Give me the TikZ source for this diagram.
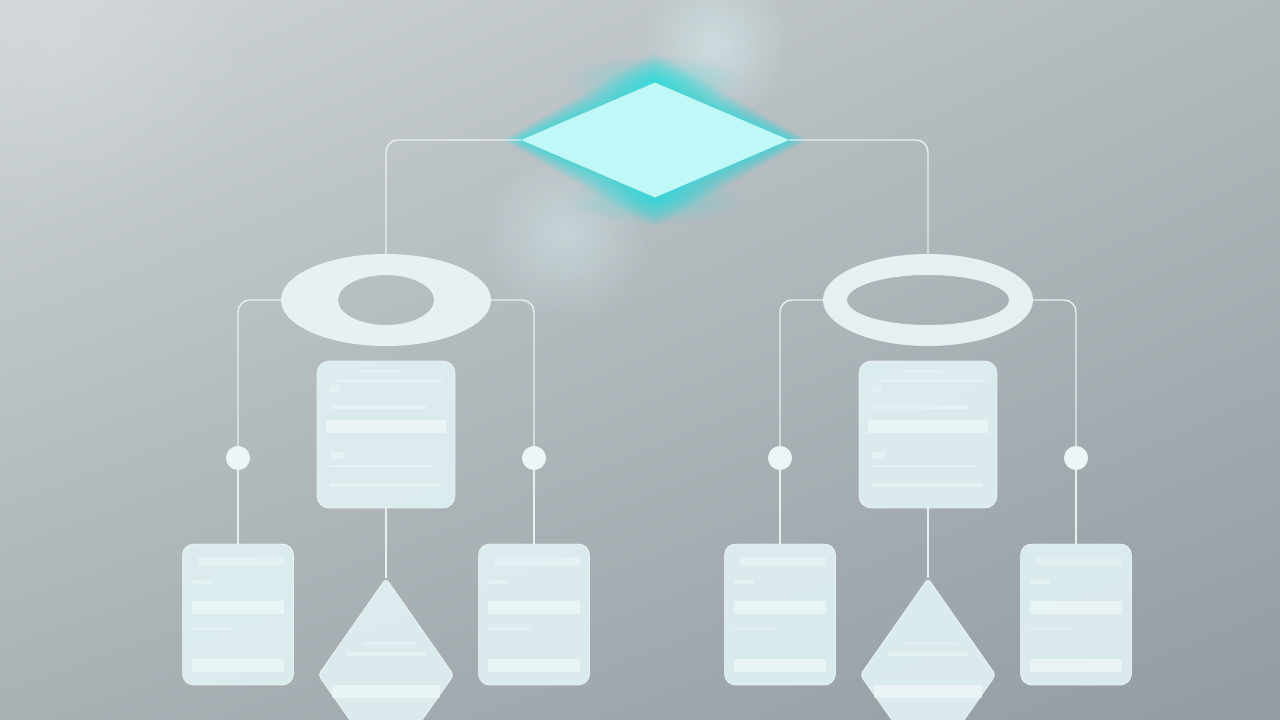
\documentclass[tikz,border=0pt]{standalone}
\usetikzlibrary{shapes.geometric,fadings,shadings}
\definecolor{bgA}{HTML}{CED4D8}
\definecolor{bgB}{HTML}{B2B9BD}
\definecolor{bgC}{HTML}{A9B1B5}
\definecolor{bgD}{HTML}{929CA1}
\definecolor{panel}{HTML}{E0F1F3}
\definecolor{bar}{HTML}{F6FCFD}
\definecolor{wire}{HTML}{E9EFF1}
\definecolor{glow}{HTML}{00E8E8}
\definecolor{gem}{HTML}{BFF8F6}
\definecolor{ring}{HTML}{EEF5F7}
\definecolor{haze}{HTML}{DDF6F6}
\tikzfading[name=softglow, inner color=transparent!0, outer color=transparent!100]
\tikzset{
  wireline/.style={draw=wire, line width=1.4pt, rounded corners=12pt},
  bigcard/.style={rectangle, rounded corners=12pt, fill=panel, fill opacity=0.92, draw=white, draw opacity=0.6, line width=0.8pt, minimum width=138pt, minimum height=147pt, inner sep=0pt},
  smallcard/.style={rectangle, rounded corners=11pt, fill=panel, fill opacity=0.92, draw=white, draw opacity=0.6, line width=0.8pt, minimum width=111pt, minimum height=141pt, inner sep=0pt},
  lowgem/.style={diamond, rounded corners=4pt, fill=panel, fill opacity=0.92, draw=white, draw opacity=0.6, line width=0.8pt, minimum width=136pt, minimum height=194pt, inner sep=0pt},
  topgem/.style={diamond, fill=gem, minimum width=268pt, minimum height=115pt, inner sep=0pt},
  ringanchor/.style={ellipse, minimum width=210pt, minimum height=92pt, inner sep=0pt},
  knob/.style={circle, fill=ring, minimum size=24pt, inner sep=0pt},
  barlite/.style={fill=bar, opacity=0.55},
  barthin/.style={fill=bar, opacity=0.35}
}
\begin{document}
\begin{tikzpicture}[x=1pt,y=-1pt]
\useasboundingbox (0,0) rectangle (1280,720);
\clip (0,0) rectangle (1280,720);
% background
\shade[upper left=bgA, upper right=bgB, lower left=bgC, lower right=bgD] (0,0) rectangle (1280,720);
% soft haze blobs
\fill[haze, opacity=0.5, path fading=softglow] (715,45) circle (75);
\fill[haze, opacity=0.4, path fading=softglow] (565,235) circle (85);
\fill[white, opacity=0.12, path fading=softglow] (60,40) circle (200);
% cyan glow around top diamond
\foreach \s in {1,...,16} {
  \fill[glow, opacity=0.045] (655,{140-57.5-1.9*\s}) -- ({655+134+1.2*\s},140) -- (655,{140+57.5+1.9*\s}) -- ({655-134-1.2*\s},140) -- cycle;
}
\fill[glow, opacity=0.3, path fading=softglow] (655,80) ellipse [x radius=90, y radius=25];
\fill[glow, opacity=0.3, path fading=softglow] (655,200) ellipse [x radius=90, y radius=25];

% nodes
\node[topgem] (top) at (655,140) {};
\node[ringanchor] (e1) at (386,300) {};
\node[ringanchor] (e2) at (928,300) {};
\fill[ring, opacity=0.92, even odd rule] (386,300) ellipse [x radius=105, y radius=46] (386,300) ellipse [x radius=48, y radius=25];
\fill[ring, opacity=0.92, even odd rule] (928,300) ellipse [x radius=105, y radius=46] (928,300) ellipse [x radius=81, y radius=25];

\node[knob] (k1) at (238,458) {};
\node[knob] (k2) at (534,458) {};
\node[knob] (k3) at (780,458) {};
\node[knob] (k4) at (1076,458) {};

\node[bigcard] (r1) at (386,434.5) {};
\node[bigcard] (r2) at (928,434.5) {};
\node[smallcard] (c1) at (238,614.5) {};
\node[smallcard] (c2) at (534,614.5) {};
\node[smallcard] (c3) at (780,614.5) {};
\node[smallcard] (c4) at (1076,614.5) {};
\node[lowgem] (g1) at (386,675) {};
\node[lowgem] (g2) at (928,675) {};

% placeholder bars in the cards
\foreach \cx in {386,928} {
  \fill[barthin] ({\cx-26},370) rectangle ({\cx+14},373);
  \fill[barthin] ({\cx-52},380) rectangle ({\cx+58},382);
  \fill[barthin] ({\cx-56},385) rectangle ({\cx-46},392);
  \fill[barthin] ({\cx-56},405) rectangle ({\cx+40},409);
  \fill[barlite] ({\cx-60},420) rectangle ({\cx+60},433);
  \fill[barthin] ({\cx-56},452) rectangle ({\cx-42},459);
  \fill[barthin] ({\cx-56},465) rectangle ({\cx+48},467);
  \fill[barthin] ({\cx-56},483) rectangle ({\cx+54},487);
}
\foreach \cx in {238,534,780,1076} {
  \fill[barthin] ({\cx-40},557) rectangle ({\cx+46},566);
  \fill[barthin] ({\cx-46},580) rectangle ({\cx-26},584);
  \fill[barlite] ({\cx-46},601) rectangle ({\cx+46},614);
  \fill[barthin] ({\cx-46},627) rectangle ({\cx-4},630);
  \fill[barlite] ({\cx-46},659) rectangle ({\cx+46},672);
}
\foreach \cx in {386,928} {
  \fill[barthin] ({\cx-24},642) rectangle ({\cx+30},645);
  \fill[barthin] ({\cx-40},652) rectangle ({\cx+40},656);
  \fill[barlite] ({\cx-54},685) rectangle ({\cx+54},698);
}

% connectors
\draw[wireline] (top.west) -| (e1.north);
\draw[wireline] (top.east) -| (e2.north);
\draw[wireline] (e1.west) -| (k1.north);
\draw[wireline] (e1.east) -| (k2.north);
\draw[wireline] (e2.west) -| (k3.north);
\draw[wireline] (e2.east) -| (k4.north);
\draw[wireline] (k1.south) -- (c1.north);
\draw[wireline] (k2.south) -- (c2.north);
\draw[wireline] (k3.south) -- (c3.north);
\draw[wireline] (k4.south) -- (c4.north);
\draw[wireline] (r1.south) -- (g1.north);
\draw[wireline] (r2.south) -- (g2.north);
\end{tikzpicture}
\end{document}
